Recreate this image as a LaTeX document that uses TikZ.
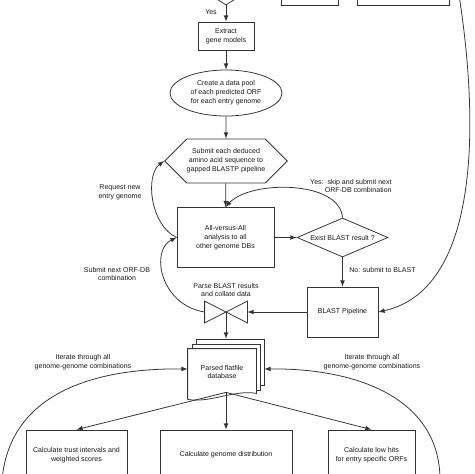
\documentclass[tikz,border=0pt]{standalone}
\usepackage{fontspec}
\setmainfont{Liberation Sans}
\usetikzlibrary{shapes.geometric,shapes.symbols}
\begin{document}
\begin{tikzpicture}[>=latex, x=.25mm, y=-.25mm, line width=.55pt, draw=black!80,
    every node/.style={font=\fontsize{5}{6.3}\selectfont, align=center, inner sep=0pt, text=black!90},
    box/.style={draw, rectangle, fill=white},
    lbl/.style={},
    flow/.style={->}]
\useasboundingbox (0,0) rectangle (474,474);
\clip (0,0) rectangle (474,474);
    % top of the chart, cut off by the frame
    \node[box, diamond, aspect=1.6, minimum width=16mm, minimum height=10mm] (decide) at (226,-15) {};
    \node[box, minimum width=14.25mm, minimum height=10mm] (topa) at (309.5,-15) {};
    \node[box, minimum width=23mm, minimum height=10mm] (topb) at (403,-15) {};
    \coordinate (topout) at (459,-5);
    \node[lbl] (yes) at (211,12) {Yes};
    \node[box, minimum width=14mm, minimum height=7mm] (extract) at (226,36) {Extract\\gene models};
    \node[box, ellipse, minimum width=28mm, minimum height=11.5mm] (pool) at (226,93) {Create a data pool\\of each predicted ORF\\for each entry genome};
    \node[box, signal, signal to=west and east, signal pointer angle=90, minimum width=28mm, minimum height=11mm] (submit) at (226,161) {Submit each deduced\\amino acid sequence to\\gapped BLASTP pipeline};
    \node[box, minimum width=24.25mm, minimum height=15mm] (ava) at (225.5,237.5) {All-versus-All\\analysis to all\\other genome DBs};
    \node[box, diamond, aspect=2.33, minimum width=22.75mm, minimum height=9.75mm] (exist) at (342.5,237.5) {Exist BLAST result ?};
    \node[box, minimum width=17.75mm, minimum height=12.5mm] (pipe) at (342.5,312) {BLAST Pipeline};
    \node[minimum width=10.5mm, minimum height=5.25mm] (collate) at (226,312) {};
    \draw (collate.north west) -- (collate.south east) -- (collate.north east) -- (collate.south west) -- cycle;
    \node[lbl] (parse) at (226,290) {Parse BLAST results\\and collate data};

    % stack of flatfiles
    \node[box, minimum width=17mm, minimum height=11.5mm] (dbback) at (230,362) {};
    \node[box, minimum width=17mm, minimum height=11.5mm] (dbmid) at (226,367) {};
    \node[fill=white, minimum width=17mm, minimum height=11.5mm] (db) at (222,372) {Parsed flatfile\\database};
    \draw ([shift={(0,4)}]db.south west) -- (db.north west) -- (db.north east) -- ([shift={(0,-2)}]db.south east)
        .. controls ([shift={(-22,-6)}]db.south east) and ([shift={(22,8)}]db.south west) .. ([shift={(0,4)}]db.south west);
    \coordinate (inL) at ([shift={(0,-3)}]db.west);
    \coordinate (inR) at (dbback.east |- inL);
    \coordinate (dbout) at ([shift={(4,-3)}]db.south);

    \node[box, minimum width=25.25mm, minimum height=12.5mm] (trust) at (76.5,455) {Calculate trust intervals and\\weighted scores};
    \node[box, minimum width=33mm, minimum height=12.5mm] (distr) at (226,455) {Calculate genome distribution};
    \node[box, minimum width=21.75mm, minimum height=12.5mm] (lowhits) at (371.5,455) {Calculate low hits\\for entry specific ORFs};
    \coordinate (loopL) at (2,480);
    \coordinate (loopR) at (440,480);

    \node[lbl] (request) at (120,192) {Request new\\entry genome};
    \node[lbl] (nextorf) at (117,274) {Submit next ORF-DB\\combination};
    \node[lbl, align=right, anchor=east] (skip) at (392,186) {Yes:~~skip and submit next\\ORF-DB combination};
    \node[lbl, anchor=west] (nosub) at (349,270) {No: submit to BLAST};
    \node[lbl] (iterL) at (83,362) {Iterate through all\\genome-genome combinations};
    \node[lbl] (iterR) at (372,362) {Iterate through all\\genome-genome combinations};

    \draw[flow] (decide) -- (extract);
    \draw[flow] (extract) -- (pool);
    \draw[flow] (pool) -- (submit);
    \draw[flow] (submit) -- (ava);
    \draw[flow] (ava) -- (exist);
    \draw[flow] (exist) -- (pipe);
    \draw[flow] (pipe) -- (collate);
    \draw[flow] (collate.center) -- (collate.center |- dbback.north);
    \draw[flow] (dbout) -- (trust.north);
    \draw[flow] (dbout) -- (distr.north);
    \draw[flow] (dbout) -- (lowhits.north);
    \draw[flow] (exist.north) .. controls (340,180) and (250,180) .. (ava.north);
    \draw[flow] (ava.west) .. controls (150,225) and (145,175) .. (submit.west);
    \draw[flow] (collate.west) .. controls (160,305) and (150,250) .. (ava.west);
    \draw[flow] (topout) .. controls (480,130) and (478,290) .. (pipe.east);
    \draw[flow] (loopL) .. controls (10,390) and (100,368) .. (inL);
    \draw[flow] (loopR) .. controls (440,400) and (360,368) .. (inR);
\end{tikzpicture}
\end{document}
